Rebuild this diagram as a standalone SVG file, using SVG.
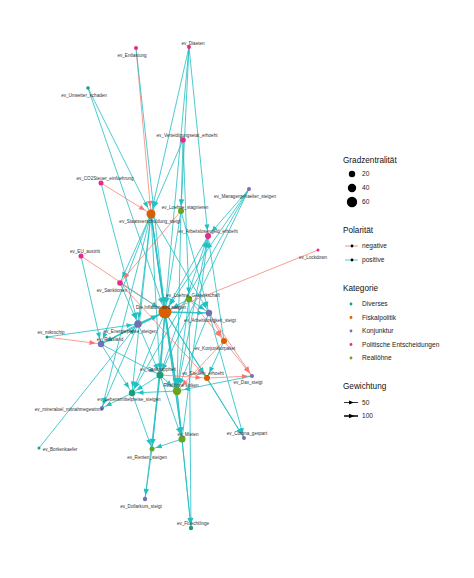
<svg xmlns="http://www.w3.org/2000/svg" width="474" height="578" viewBox="0 0 474 578">
<style>
.p{stroke:#22BFC3;stroke-width:.9;fill:none;stroke-opacity:.9}
.n{stroke:#F8766D;stroke-width:.8;fill:none;stroke-opacity:.9}
.w2{stroke-width:1.5}
.p.s{marker-end:url(#ps)}.p.m{marker-end:url(#pm)}.p.l{marker-end:url(#pl)}.p.x{marker-end:url(#px)}
.n.s{marker-end:url(#ns)}.n.m{marker-end:url(#nm)}.n.l{marker-end:url(#nl)}.n.x{marker-end:url(#nx)}
.lb{font-family:"Liberation Sans",Arial,sans-serif;font-size:4.6px;fill:#333;text-anchor:middle}
.lt{font-family:"Liberation Sans",Arial,sans-serif;font-size:8.2px;fill:#111}
.li{font-family:"Liberation Sans",Arial,sans-serif;font-size:6.6px;fill:#222}
.div{fill:#1B9E77}.fis{fill:#D95F02}.kon{fill:#7570B3}.pol{fill:#E7298A}.rea{fill:#66A61E}
</style>
<defs>
<marker id="ps" markerUnits="userSpaceOnUse" markerWidth="6" markerHeight="5" refX="10" refY="2.5" orient="auto" overflow="visible"><path d="M0,0L6,2.5L0,5z" fill="#22BFC3"/></marker>
<marker id="pm" markerUnits="userSpaceOnUse" markerWidth="6" markerHeight="5" refX="11.5" refY="2.5" orient="auto" overflow="visible"><path d="M0,0L6,2.5L0,5z" fill="#22BFC3"/></marker>
<marker id="pl" markerUnits="userSpaceOnUse" markerWidth="6" markerHeight="5" refX="13" refY="2.5" orient="auto" overflow="visible"><path d="M0,0L6,2.5L0,5z" fill="#22BFC3"/></marker>
<marker id="px" markerUnits="userSpaceOnUse" markerWidth="6" markerHeight="5" refX="14.5" refY="2.5" orient="auto" overflow="visible"><path d="M0,0L6,2.5L0,5z" fill="#22BFC3"/></marker>
<marker id="ns" markerUnits="userSpaceOnUse" markerWidth="6" markerHeight="5" refX="10" refY="2.5" orient="auto" overflow="visible"><path d="M0,0L6,2.5L0,5z" fill="#F8766D"/></marker>
<marker id="nm" markerUnits="userSpaceOnUse" markerWidth="6" markerHeight="5" refX="11.5" refY="2.5" orient="auto" overflow="visible"><path d="M0,0L6,2.5L0,5z" fill="#F8766D"/></marker>
<marker id="nl" markerUnits="userSpaceOnUse" markerWidth="6" markerHeight="5" refX="13" refY="2.5" orient="auto" overflow="visible"><path d="M0,0L6,2.5L0,5z" fill="#F8766D"/></marker>
<marker id="nx" markerUnits="userSpaceOnUse" markerWidth="6" markerHeight="5" refX="14.5" refY="2.5" orient="auto" overflow="visible"><path d="M0,0L6,2.5L0,5z" fill="#F8766D"/></marker>
</defs>
<rect width="474" height="578" fill="#fff"/>
<g id="edges">
<line class="n l" x1="136" y1="48" x2="151" y2="214"/>
<line class="p x" x1="136" y1="48" x2="165" y2="312"/>
<line class="p l" x1="189" y1="47" x2="151" y2="214"/>
<line class="p x" x1="189" y1="47" x2="165" y2="312"/>
<line class="p m" x1="189" y1="47" x2="181" y2="211"/>
<line class="p m" x1="189" y1="47" x2="208" y2="236"/>
<line class="p l" x1="88" y1="88" x2="151" y2="214"/>
<line class="p x" x1="88" y1="88" x2="165" y2="312"/>
<line class="p m" x1="183" y1="140" x2="181" y2="211"/>
<line class="p m" x1="183" y1="140" x2="189" y2="299"/>
<line class="p l" x1="183" y1="140" x2="151" y2="214"/>
<line class="n l" x1="101" y1="183" x2="151" y2="214"/>
<line class="p m" x1="101" y1="183" x2="138" y2="324"/>
<line class="p x w2" x1="151" y1="214" x2="165" y2="312"/>
<line class="p m" x1="151" y1="214" x2="138" y2="324"/>
<line class="p m" x1="151" y1="214" x2="160" y2="375"/>
<line class="p m" x1="151" y1="214" x2="132" y2="393"/>
<line class="p l" x1="151" y1="214" x2="177" y2="391"/>
<line class="p s" x1="151" y1="214" x2="102" y2="408"/>
<line class="p m" x1="151" y1="214" x2="182" y2="439"/>
<line class="p m" x1="151" y1="214" x2="101" y2="344"/>
<line class="p m" x1="151" y1="214" x2="120" y2="283"/>
<line class="p m" x1="151" y1="214" x2="209" y2="313"/>
<line class="p x" x1="181" y1="211" x2="165" y2="312"/>
<line class="n m" x1="181" y1="211" x2="120" y2="283"/>
<line class="p l" x1="181" y1="211" x2="177" y2="391"/>
<line class="p m" x1="181" y1="211" x2="209" y2="313"/>
<line class="p m" x1="249" y1="189" x2="208" y2="236"/>
<line class="p m" x1="249" y1="189" x2="160" y2="375"/>
<line class="p m" x1="249" y1="189" x2="132" y2="393"/>
<line class="p x" x1="249" y1="189" x2="165" y2="312"/>
<line class="p x" x1="208" y1="236" x2="165" y2="312"/>
<line class="p l" x1="208" y1="236" x2="177" y2="391"/>
<line class="p m" x1="160" y1="375" x2="208" y2="236"/>
<line class="p m" x1="182" y1="439" x2="208" y2="236"/>
<line class="p m" x1="224" y1="341" x2="208" y2="236"/>
<line class="n x" x1="318" y1="250" x2="165" y2="312"/>
<line class="n x" x1="81" y1="256" x2="165" y2="312"/>
<line class="p m" x1="81" y1="256" x2="101" y2="344"/>
<line class="p x" x1="120" y1="283" x2="165" y2="312"/>
<line class="n m" x1="120" y1="283" x2="207" y2="378"/>
<line class="p m" x1="120" y1="283" x2="138" y2="324"/>
<line class="p x" x1="189" y1="299" x2="165" y2="312"/>
<line class="p m" x1="189" y1="299" x2="209" y2="313"/>
<line class="p l" x1="189" y1="299" x2="177" y2="391"/>
<line class="p s" x1="189" y1="299" x2="191" y2="528"/>
<line class="n m" x1="189" y1="299" x2="224" y2="341"/>
<line class="p m w2" x1="165" y1="312" x2="209" y2="313"/>
<line class="p l w2" x1="165" y1="312" x2="177" y2="391"/>
<line class="p m w2" x1="165" y1="312" x2="160" y2="375"/>
<line class="p m" x1="165" y1="312" x2="182" y2="439"/>
<line class="p m" x1="165" y1="312" x2="132" y2="393"/>
<line class="p s" x1="165" y1="312" x2="152" y2="449"/>
<line class="p m" x1="165" y1="312" x2="207" y2="378"/>
<line class="p s" x1="165" y1="312" x2="244" y2="438"/>
<line class="p m" x1="165" y1="312" x2="101" y2="344"/>
<line class="n s" x1="209" y1="313" x2="252" y2="376"/>
<line class="n m" x1="209" y1="313" x2="224" y2="341"/>
<line class="p l" x1="209" y1="313" x2="177" y2="391"/>
<line class="p s" x1="209" y1="313" x2="244" y2="438"/>
<line class="p x w2" x1="138" y1="324" x2="165" y2="312"/>
<line class="p m" x1="138" y1="324" x2="101" y2="344"/>
<line class="p m" x1="138" y1="324" x2="160" y2="375"/>
<line class="p s" x1="138" y1="324" x2="102" y2="408"/>
<line class="p m" x1="47" y1="337" x2="138" y2="324"/>
<line class="n m" x1="47" y1="337" x2="101" y2="344"/>
<line class="p x" x1="101" y1="344" x2="165" y2="312"/>
<line class="p m" x1="101" y1="344" x2="132" y2="393"/>
<line class="p m" x1="101" y1="344" x2="160" y2="375"/>
<line class="p m" x1="224" y1="341" x2="207" y2="378"/>
<line class="n l" x1="224" y1="341" x2="177" y2="391"/>
<line class="n s" x1="224" y1="341" x2="252" y2="376"/>
<line class="p l" x1="160" y1="375" x2="177" y2="391"/>
<line class="p m" x1="160" y1="375" x2="132" y2="393"/>
<line class="p m" x1="160" y1="375" x2="182" y2="439"/>
<line class="p s" x1="160" y1="375" x2="152" y2="449"/>
<line class="n m" x1="160" y1="375" x2="207" y2="378"/>
<line class="p s" x1="160" y1="375" x2="145" y2="499"/>
<line class="n s" x1="207" y1="378" x2="252" y2="376"/>
<line class="p s" x1="207" y1="378" x2="244" y2="438"/>
<line class="p l" x1="252" y1="376" x2="177" y2="391"/>
<line class="p m" x1="177" y1="391" x2="182" y2="439"/>
<line class="p m" x1="177" y1="391" x2="132" y2="393"/>
<line class="p s" x1="177" y1="391" x2="191" y2="528"/>
<line class="p s" x1="132" y1="393" x2="102" y2="408"/>
<line class="p s" x1="132" y1="393" x2="152" y2="449"/>
<line class="p s" x1="182" y1="439" x2="152" y2="449"/>
<line class="p s" x1="182" y1="439" x2="191" y2="528"/>
<line class="p s" x1="152" y1="449" x2="145" y2="499"/>
<line class="p m" x1="39" y1="448" x2="138" y2="324"/>
</g>
<g id="n-entlastung"><circle class="pol" cx="136" cy="48" r="2"/><text class="lb" x="132" y="56.5">ev_Entlastung</text></g>
<g id="n-diaeten"><circle class="pol" cx="189" cy="47" r="2"/><text class="lb" x="193" y="44.5">ev_Diaeten</text></g>
<g id="n-unwetter"><circle class="div" cx="88" cy="88" r="1.8"/><text class="lb" x="84" y="96.5">ev_Unwetter_schaden</text></g>
<g id="n-verteidigung"><circle class="pol" cx="183" cy="140" r="2.8"/><text class="lb" x="187" y="136.5">ev_Verteidigungsetat_erhoeht</text></g>
<g id="n-co2"><circle class="pol" cx="101" cy="183" r="2.5"/><text class="lb" x="105" y="179.5">ev_CO2Steuer_einfuehrung</text></g>
<g id="n-staatsverschuldung"><circle class="fis" cx="151" cy="214" r="4.5"/><text class="lb" x="150" y="222.5">ev_Staatsverschuldung_steigt</text></g>
<g id="n-loehne-stagnieren"><circle class="rea" cx="181" cy="211" r="3"/><text class="lb" x="185" y="208.5">ev_Loehne_stagnieren</text></g>
<g id="n-manager"><circle class="kon" cx="249" cy="189" r="2"/><text class="lb" x="245" y="197.5">ev_Managergehaelter_steigen</text></g>
<g id="n-arbeitslosengeld"><circle class="pol" cx="208" cy="236" r="3"/><text class="lb" x="208" y="232.5">ev_Arbeitslosengeld_erhoeht</text></g>
<g id="n-lockdown"><circle class="pol" cx="318" cy="250" r="1.5"/><text class="lb" x="313" y="258.5">ev_Lockdown</text></g>
<g id="n-eu"><circle class="pol" cx="81" cy="256" r="2.5"/><text class="lb" x="85" y="252.5">ev_EU_austritt</text></g>
<g id="n-sanktionen"><circle class="pol" cx="120" cy="283" r="2.8"/><text class="lb" x="112" y="291.5">ev_Sanktionen</text></g>
<g id="n-loehne-gewerkschaft"><circle class="rea" cx="189" cy="299" r="3.2"/><text class="lb" x="193" y="296.5">ev_Loehne_Gewerkschaft</text></g>
<g id="n-inflation"><circle class="fis" cx="165" cy="312" r="6.5"/><text class="lb" x="161" y="308.5">Die Inflation wird steigen</text></g>
<g id="n-arbeitslosigkeit"><circle class="kon" cx="209" cy="313" r="3.2"/><text class="lb" x="210" y="321.5">ev_Arbeitslosigkeit_steigt</text></g>
<g id="n-energiepreise"><circle class="kon" cx="138" cy="324" r="3.8"/><text class="lb" x="130" y="332.5">ev_Energiepreise_steigen</text></g>
<g id="n-mikrochip"><circle class="div" cx="47" cy="337" r="1.5"/><text class="lb" x="51" y="333.5">ev_mikrochip</text></g>
<g id="n-russland"><circle class="kon" cx="101" cy="344" r="3.2"/><text class="lb" x="110" y="340.5">ev_Russland</text></g>
<g id="n-konjunkturpaket"><circle class="fis" cx="224" cy="341" r="3"/><text class="lb" x="215" y="349.5">ev_Konjunkturpaket</text></g>
<g id="n-gasknappheit"><circle class="div" cx="160" cy="375" r="3.5"/><text class="lb" x="158" y="370.5">ev_Gasknappheit</text></g>
<g id="n-steuern"><circle class="fis" cx="207" cy="378" r="3"/><text class="lb" x="203" y="374.5">ev_Steuern_erhoeht</text></g>
<g id="n-dax"><circle class="kon" cx="252" cy="376" r="2"/><text class="lb" x="248" y="383.5">ev_Dax_steigt</text></g>
<g id="n-realloehne"><circle class="rea" cx="177" cy="391" r="4.2"/><text class="lb" x="181" y="386.5">Reallöhne sinken</text></g>
<g id="n-lebensmittel"><circle class="div" cx="132" cy="393" r="3.2"/><text class="lb" x="129" y="400.5">ev_Lebensmittelpreise_steigen</text></g>
<g id="n-mineraloel"><circle class="kon" cx="102" cy="408" r="2"/><text class="lb" x="69" y="410.5">ev_mineraloel_mitnahmegewinne</text></g>
<g id="n-borkenkaefer"><circle class="div" cx="39" cy="448" r="1.5"/><text class="lb" x="60" y="450.5">ev_Borkenkaefer</text></g>
<g id="n-renten"><circle class="rea" cx="152" cy="449" r="2.5"/><text class="lb" x="147" y="458.5">ev_Renten_steigen</text></g>
<g id="n-mieten"><circle class="rea" cx="182" cy="439" r="3.5"/><text class="lb" x="188" y="435.5">ev_Mieten</text></g>
<g id="n-corona"><circle class="kon" cx="244" cy="438" r="2"/><text class="lb" x="247" y="434.5">ev_Corona_gespart</text></g>
<g id="n-dollar"><circle class="kon" cx="145" cy="499" r="2.2"/><text class="lb" x="141" y="507.5">ev_Dollarkurs_steigt</text></g>
<g id="n-fluechtlinge"><circle class="div" cx="191" cy="528" r="2.2"/><text class="lb" x="193" y="524.5">ev_Fluechtlinge</text></g>
<g id="legend">
<text class="lt" x="343" y="163">Gradzentralität</text>
<circle cx="352" cy="174" r="3.2" fill="#000"/><text class="li" x="362" y="176.3">20</text>
<circle cx="352" cy="188" r="4.2" fill="#000"/><text class="li" x="362" y="190.3">40</text>
<circle cx="352" cy="202" r="5.2" fill="#000"/><text class="li" x="362" y="204.3">60</text>
<text class="lt" x="343" y="233">Polarität</text>
<line x1="345" y1="246" x2="358" y2="246" stroke="#F8766D" stroke-width=".8"/><circle cx="352" cy="246" r="1.4" fill="#000"/><text class="li" x="362" y="248.3">negative</text>
<line x1="345" y1="260" x2="358" y2="260" stroke="#22BFC3" stroke-width=".8"/><circle cx="352" cy="260" r="1.4" fill="#000"/><text class="li" x="362" y="262.3">positive</text>
<text class="lt" x="343" y="291">Kategorie</text>
<circle class="div" cx="351" cy="304" r="1.4"/><text class="li" x="362" y="306.3">Diverses</text>
<circle class="fis" cx="351" cy="317.5" r="1.4"/><text class="li" x="362" y="319.8">Fiskalpolitik</text>
<circle class="kon" cx="351" cy="331" r="1.4"/><text class="li" x="362" y="333.3">Konjunktur</text>
<circle class="pol" cx="351" cy="344.5" r="1.4"/><text class="li" x="362" y="346.8">Politische Entscheidungen</text>
<circle class="rea" cx="351" cy="358" r="1.4"/><text class="li" x="362" y="360.3">Reallöhne</text>
<text class="lt" x="343" y="389">Gewichtung</text>
<line x1="344" y1="402.5" x2="358" y2="402.5" stroke="#000" stroke-width=".8"/><path d="M349,400.5L354,402.5L349,404.5z" fill="#000"/><text class="li" x="362" y="404.8">50</text>
<line x1="344" y1="416" x2="358" y2="416" stroke="#000" stroke-width="1.5"/><path d="M349,413.8L354.5,416L349,418.2z" fill="#000"/><text class="li" x="362" y="418.3">100</text>
</g>
</svg>
